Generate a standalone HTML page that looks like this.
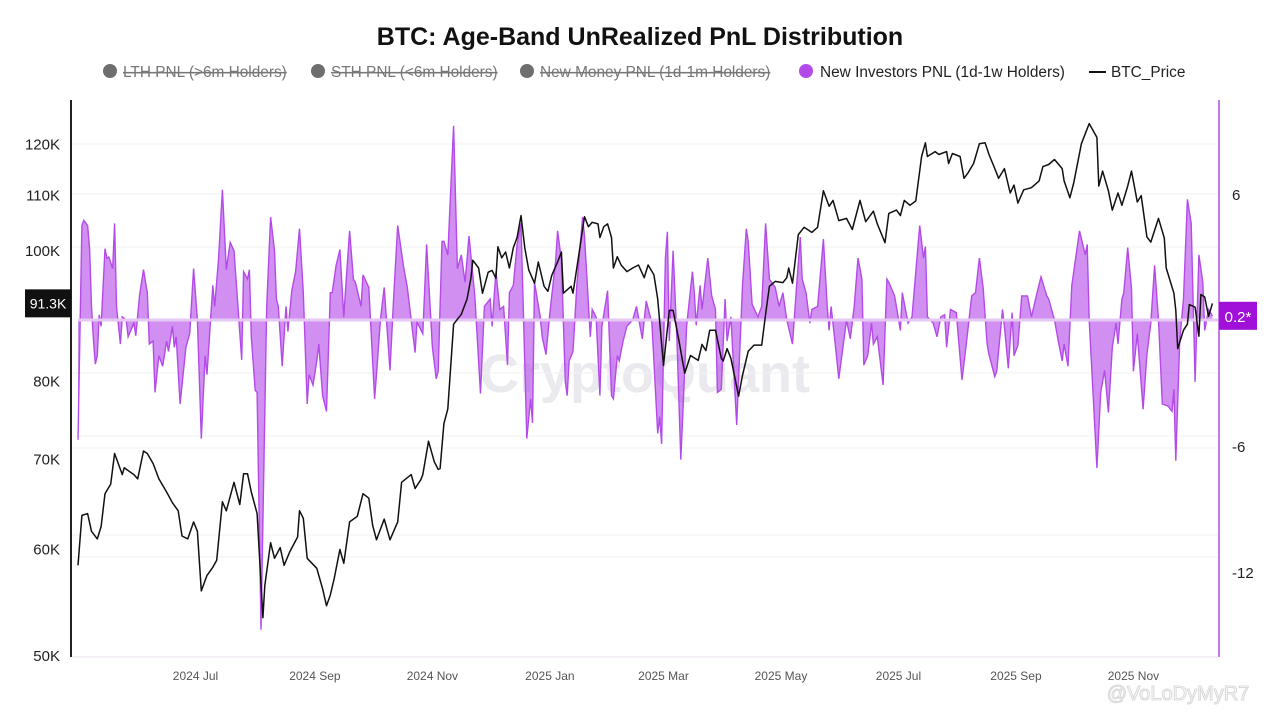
<!DOCTYPE html>
<html><head><meta charset="utf-8">
<style>
body{margin:0;background:#fff;font-family:"Liberation Sans",sans-serif;}
#wrap{position:relative;width:1280px;height:720px;overflow:hidden;background:#fff;}
</style></head>
<body>
<div id="wrap">
<svg id="chart" width="1280" height="720" xmlns="http://www.w3.org/2000/svg">
<text x="640" y="45" text-anchor="middle" font-size="25" font-weight="bold" fill="#111">BTC: Age-Band UnRealized PnL Distribution</text>
<g font-size="15.4" fill="#777">
 <g><circle cx="110" cy="71" r="7" fill="#6e6e6e"/><text x="123" y="77" text-decoration="line-through">LTH PNL (&gt;6m Holders)</text></g>
 <g><circle cx="318" cy="71" r="7" fill="#6e6e6e"/><text x="331" y="77" text-decoration="line-through">STH PNL (&lt;6m Holders)</text></g>
 <g><circle cx="527" cy="71" r="7" fill="#6e6e6e"/><text x="540" y="77" text-decoration="line-through">New Money PNL (1d-1m Holders)</text></g>
 <g><circle cx="806" cy="71" r="7" fill="#b44be8"/><text x="820" y="77" fill="#222">New Investors PNL (1d-1w Holders)</text></g>
 <g><line x1="1089" y1="72" x2="1106" y2="72" stroke="#111" stroke-width="2"/><text x="1111" y="77" fill="#222">BTC_Price</text></g>
</g>
<text x="645" y="392" text-anchor="middle" font-size="54" font-weight="bold" fill="#e9e9ee">CryptoQuant</text>
<g id="grid"></g>
<g id="area"></g>
<g id="price"></g>
<g id="axes"></g>
<text x="1178" y="700" text-anchor="middle" font-size="20" fill="none" stroke="#d8d8d8" stroke-width="1">@VoLoDyMyR7</text>
</svg>
</div>
<script>
const NS="http://www.w3.org/2000/svg";
const priceDays=[0,2,5,7,10,12,14,17,19,23,24,29,31,34,36,39,42,46,49,52,54,57,60,62,64,67,70,72,75,77,81,84,86,88,90,93,96,97,100,102,105,107,110,114,115,117,119,124,127,129,131,133,136,138,141,145,148,151,153,155,159,162,166,168,173,175,178,179,182,185,187,188,190,192,195,199,202,204,205,208,210,213,215,217,218,220,222,224,226,228,230,232,234,237,239,242,244,246,249,251,252,256,257,260,263,265,267,270,271,273,275,277,278,280,282,285,288,291,294,296,299,301,304,307,309,312,315,318,322,324,326,328,331,334,335,337,339,343,345,348,351,355,357,359,362,366,368,369,371,374,377,381,384,387,390,392,395,399,402,406,409,413,415,419,421,425,427,429,432,435,438,440,441,445,447,451,452,454,458,460,462,465,468,471,473,476,478,481,484,486,488,491,495,499,501,504,507,511,512,515,517,521,525,529,530,532,535,537,540,542,545,547,550,552,555,557,561,564,565,569,570,571,574,576,577,580,582,583,585,587,589];
const priceValues=[58.3,63.5,63.7,61.8,61.0,62.3,65.9,67.0,70.6,68.1,68.9,68.1,67.6,70.9,70.6,69.4,67.6,66.1,64.9,64.0,61.3,61.0,62.8,61.8,55.8,57.3,58.1,58.8,65.0,64.0,67.2,64.7,68.2,68.2,66.1,63.7,53.3,56.3,60.6,59.0,60.1,58.3,59.7,61.2,64.0,63.2,59.0,58.0,56.0,54.4,55.4,57.0,59.9,58.5,62.8,63.4,65.9,65.4,62.4,60.9,63.1,60.9,62.8,67.2,68.1,66.5,67.5,68.1,72.1,69.6,68.7,68.8,74.3,76.2,88.1,89.6,92.0,95.3,98.3,97.0,92.9,96.3,96.6,95.3,100.6,98.7,99.7,97.0,100.4,102.2,106.1,100.4,96.7,94.5,98.0,94.0,93.2,95.8,98.0,99.7,92.9,94.0,92.9,99.2,105.9,104.1,104.9,104.6,102.2,104.1,104.6,102.2,97.0,98.9,97.5,96.4,97.0,97.5,95.4,97.5,95.9,92.0,82.1,90.2,90.2,85.7,81.0,83.5,82.8,85.1,84.2,87.2,87.2,83.1,82.7,84.5,83.1,77.9,80.7,84.1,85.0,85.0,89.6,94.0,94.8,94.6,95.4,97.0,94.5,102.7,104.0,103.1,104.0,110.7,107.8,108.9,105.2,105.6,103.6,108.9,105.0,106.9,104.6,101.3,106.5,107.1,106.1,108.9,108.0,108.8,117.4,120.2,117.4,118.4,117.8,118.4,116.0,118.0,117.4,113.1,114.1,116.0,120.0,120.2,117.8,115.0,113.1,115.0,110.3,111.8,108.4,110.9,111.3,112.6,115.4,115.8,116.8,115.0,112.6,109.4,112.2,120.0,124.2,121.3,111.6,114.5,110.7,107.1,110.3,108.0,111.6,114.5,108.6,109.8,102.3,101.4,105.6,102.1,97.0,92.9,90.2,84.5,87.2,88.1,91.1,90.7,86.3,92.7,92.3,89.3,91.3];
const pnlDays=[0,2,3,5,6,7,8,9,10,11,12,14,15,16,18,19,20,22,23,25,26,29,30,32,34,36,37,39,40,42,44,46,47,49,50,51,53,56,58,60,62,64,66,67,70,71,73,75,77,79,81,85,86,88,89,90,92,93,95,98,100,102,103,104,106,108,109,111,113,115,117,119,120,122,124,125,127,129,131,132,134,136,138,139,141,143,144,147,148,151,154,155,157,159,162,164,166,169,171,175,176,179,181,184,186,187,189,190,192,195,197,199,201,203,206,209,211,214,215,217,219,221,223,224,226,228,230,233,235,236,237,240,241,243,245,248,249,251,253,254,255,257,259,262,263,266,267,269,271,272,275,277,278,280,281,283,285,288,290,293,295,298,301,302,303,305,306,307,309,311,313,316,319,320,321,323,324,327,329,331,332,334,336,337,339,342,345,347,348,350,353,355,357,359,362,364,366,368,371,373,375,376,378,380,381,384,387,389,390,391,393,395,399,401,403,405,407,408,410,412,413,415,418,420,421,424,427,428,431,433,437,439,440,441,444,446,448,450,451,453,456,459,461,464,466,468,470,472,473,476,477,480,481,483,485,486,488,490,493,495,498,500,503,504,507,509,511,512,514,516,520,523,524,525,527,529,531,533,535,537,539,540,542,543,545,547,548,550,553,555,557,559,561,563,566,568,569,570,572,574,576,578,580,582,584,585,587,589];
const pnlValues=[-5.7,4.5,4.75,4.5,3.4,0.65,-0.9,-2.1,-1.7,0.25,-0.3,3.4,2.95,3.0,2.45,4.6,0.65,-1.15,0.15,0,-0.8,-0.15,-0.75,1.2,2.4,1.3,-1.15,-1.0,-3.45,-1.7,-2.2,-1.0,-1.5,-0.3,-1.3,-0.8,-4.0,-1.3,-0.65,2.45,0,-5.65,-1.7,-2.6,1.65,0.65,2.95,6.2,2.4,3.7,3.3,-1.9,2.3,1.95,2.4,-0.8,-3.35,-3.45,-14.75,0.65,4.9,3.3,1.0,0.65,-2.2,0.65,-0.55,1.4,2.3,4.35,1.3,-4.0,-2.6,-3.1,-1.95,-1.15,-3.6,-4.35,1.3,1.3,2.6,3.35,0.15,1.55,4.25,1.95,1.8,0.65,2.15,1.55,-3.75,-2.6,0,1.55,-2.4,1.3,4.5,2.55,1.55,-1.55,-0.1,-0.65,3.6,-1.3,-2.8,-2.45,3.75,3.75,3.1,9.25,2.45,3.1,1.8,4.0,1.15,-3.5,0.65,1.0,-0.3,2.3,0.5,0.65,-2.15,1.3,1.65,3.6,4.6,-5.65,-3.75,-4.9,1.8,0.15,-0.8,-1.65,0.35,2.8,4.25,2.85,-2.95,-3.6,-1.95,-1.5,1.65,4.9,4.0,-0.8,0.5,0.15,-3.6,-0.3,1.4,-3.6,-3.75,-1.7,-1.95,-1.0,-0.3,0,0.65,-0.9,0.9,-0.15,-5.4,-4.6,-5.9,2.95,4.2,-1.0,3.3,-1.0,-6.65,-0.3,2.3,1.3,-0.25,1.65,0.5,2.95,1.15,0.5,-3.45,-3.3,1.0,-1.0,0.15,-5.0,1.65,4.35,3.75,0.75,0.15,0.65,4.6,1.95,1.55,0.65,1.3,0,-1.15,1.5,3.95,1.95,1.3,-0.15,0.5,0.65,3.85,0.65,-0.5,0.65,-1.0,-2.8,0,-0.9,0.65,2.95,1.95,-2.15,-1.7,-0.15,-1.15,-0.8,-3.1,1.95,1.8,1.15,-0.5,1.3,-0.15,0.15,4.5,2.95,3.5,0.15,-0.15,-0.8,0.15,0.25,-1.3,0.5,0.35,-2.85,-1.3,1.15,1.3,2.95,1.5,-1.15,-1.65,-2.7,-2.45,0.5,-0.3,-2.3,0.35,-1.7,-1.2,1.15,1.15,0.15,1.3,2.05,1.15,1.0,0,-1.0,-1.95,-1.15,-2.2,1.65,4.25,3.1,3.6,0,-3.45,-7.05,-3.45,-2.4,-4.4,-1.3,-0.15,-1.15,1.0,1.3,3.45,1.5,-2.45,-0.65,-4.25,-1.65,-0.15,2.6,0,-4.0,-4.1,-4.35,-3.3,-6.7,-1.0,1.0,5.75,4.6,-2.95,3.1,1.8,-0.5,0.5,0.2];
const priceTicks=[50,60,70,80,100,110,120];
const priceTickLabels=["50K","60K","70K","80K","100K","110K","120K"];
const pnlTicks=[6,-6,-12];
const monthDays=[61,123,184,245,304,365,426,487,548];
const monthLabels=["2024 Jul","2024 Sep","2024 Nov","2025 Jan","2025 Mar","2025 May","2025 Jul","2025 Sep","2025 Nov"];

function xScale(d){return 78+d*1.926;}
function yPrice(p){return 655-584*Math.log(p/50);}
function yPnl(v){return 320-21*v;}
function mk(tag,attrs,parent){const e=document.createElementNS(NS,tag);for(const k in attrs)e.setAttribute(k,attrs[k]);parent.appendChild(e);return e;}

const grid=document.getElementById('grid');
[144,194,247,373,436,448,535,557].forEach(y=>{
  const l=mk('line',{x1:72,x2:1218,y1:y,y2:y,stroke:'#f2f2f2','stroke-width':1},grid);
  
  
});

const area=document.getElementById('area');
let d='M'+xScale(pnlDays[0])+','+yPnl(0);
pnlDays.forEach((t,i)=>{d+=' L'+xScale(t).toFixed(1)+','+yPnl(pnlValues[i]).toFixed(1);});
d+=' L'+xScale(pnlDays[pnlDays.length-1])+','+yPnl(0)+' Z';
const fillP=mk('path',{d:d,fill:'#b44be8','fill-opacity':0.62,stroke:'none'},area);


let ld='';
pnlDays.forEach((t,i)=>{ld+=(i?' L':'M')+xScale(t).toFixed(1)+','+yPnl(pnlValues[i]).toFixed(1);});
const lineP=mk('path',{d:ld,fill:'none',stroke:'#b44be8','stroke-width':1.4},area);


const base=mk('line',{x1:xScale(0),x2:1218,y1:yPnl(0),y2:yPnl(0),stroke:'#e6c8f4','stroke-width':3},area);



const price=document.getElementById('price');
let pd='';
priceDays.forEach((t,i)=>{pd+=(i?' L':'M')+xScale(t).toFixed(1)+','+yPrice(priceValues[i]).toFixed(1);});
const pl=mk('path',{d:pd,fill:'none',stroke:'#111','stroke-width':1.5,'stroke-linejoin':'round'},price);



const axes=document.getElementById('axes');
const la=mk('line',{x1:71,x2:71,y1:100,y2:657,stroke:'#222','stroke-width':2},axes);


const ra=mk('line',{x1:1219,x2:1219,y1:100,y2:657,stroke:'#c57ae8','stroke-width':2},axes);


const ba=mk('line',{x1:72,x2:1218,y1:657,y2:657,stroke:'#e8e0ec','stroke-width':1},axes);


priceTicks.forEach((p,i)=>{
  const t=mk('text',{x:60,y:yPrice(p)+6,'text-anchor':'end','font-size':15,fill:'#222'},axes);
  t.textContent=priceTickLabels[i];
  
  
});
pnlTicks.forEach(v=>{
  const t=mk('text',{x:1232,y:yPnl(v)+6,'font-size':15,fill:'#222'},axes);
  t.textContent=String(v);
  
  
});
monthDays.forEach((m,i)=>{
  const t=mk('text',{x:xScale(m),y:680,'text-anchor':'middle','font-size':12,fill:'#555'},axes);
  t.textContent=monthLabels[i];
  
  
});
const lastP=priceValues[priceValues.length-1];
const py=yPrice(lastP);
const pb=mk('rect',{x:25,y:py-14,width:46,height:28,fill:'#111'},axes);


const pt=mk('text',{x:48,y:py+5,'text-anchor':'middle','font-size':14,fill:'#fff'},axes);
pt.textContent=lastP.toFixed(1)+'K';


const lastV=pnlValues[pnlValues.length-1];
const vy=yPnl(lastV);
const vb=mk('rect',{x:1219,y:vy-14,width:38,height:28,fill:'#a010d8'},axes);


const vt=mk('text',{x:1238,y:vy+6,'text-anchor':'middle','font-size':15,fill:'#fff'},axes);
vt.textContent=lastV.toFixed(1)+'*';


</script>
</body></html>
